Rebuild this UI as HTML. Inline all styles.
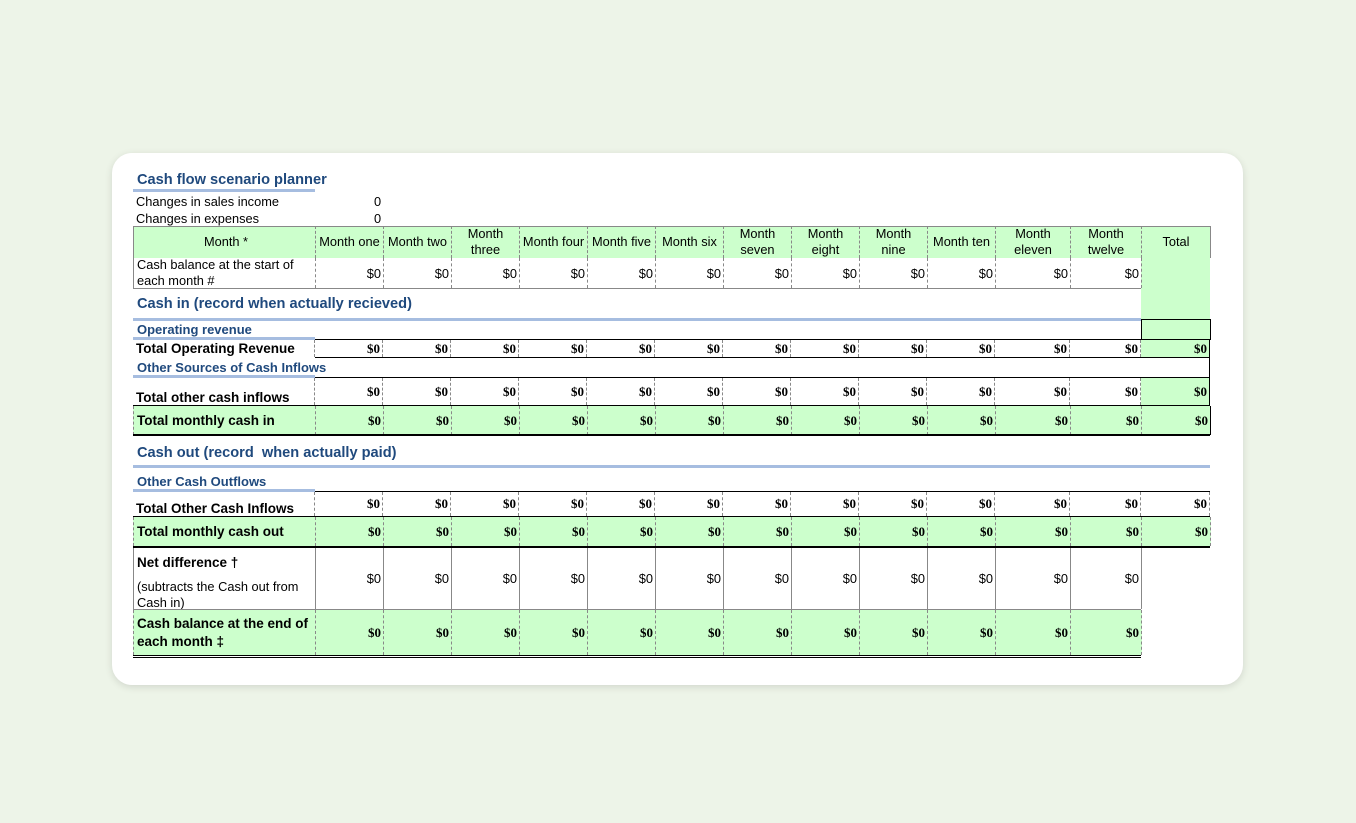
<!DOCTYPE html>
<html><head><meta charset="utf-8"><style>
body{margin:0;width:1356px;height:823px;background:#edf4e8;position:relative;overflow:hidden;font-family:"Liberation Sans",Arial,sans-serif;}
.card{position:absolute;left:112px;top:153px;width:1131px;height:532px;background:#fff;border-radius:20px;box-shadow:0 2px 8px rgba(0,0,0,0.12);}
.a{position:absolute;}
.row{position:absolute;left:133px;display:flex;}
.row>span{box-sizing:border-box;border-right:1px dashed #888;display:flex;align-items:center;justify-content:flex-end;padding-right:2px;font-size:12.8px;color:#000;height:100%;white-space:nowrap}
.row>span:nth-child(1){width:182px;justify-content:flex-start;padding-left:3px;white-space:normal}
.row>span:nth-child(n+2){width:68px}
.row>span:nth-child(12){width:75px}
.row>span:nth-child(13){width:71px}
.row>span:nth-child(14){width:69px}
.g{background:#ccffcc}
.b>span{font-family:"Liberation Serif",serif;font-weight:bold;font-size:13px}
.b>span:nth-child(1){font-family:"Liberation Sans",sans-serif;font-weight:bold;font-size:13.5px}
.h{font-weight:bold;color:#1f497d;font-size:14.6px}
.s{font-weight:bold;color:#1f497d;font-size:13px}
.bl{background:#a6bde0;height:3px}
.ln{height:1px;background:#000}
.gl{height:1px;background:#888}
.hd>span{justify-content:center;text-align:center;padding:0;line-height:16px}
.hd>span:nth-child(1){justify-content:center}
.t{font-size:12.8px}
</style></head><body>
<div class="card"></div>
<div class="a h" style="left:137px;top:172px">Cash flow scenario planner</div>
<div class="a bl" style="left:133px;top:189px;width:182px"></div>
<div class="a t" style="left:136px;top:194px">Changes in sales income</div>
<div class="a t" style="left:136px;top:211px">Changes in expenses</div>
<div class="a t" style="left:374px;top:194px">0</div>
<div class="a t" style="left:374px;top:211px">0</div>

<div class="a g" style="left:1141px;top:226px;width:69px;height:131px"></div>

<div class="row g hd" style="top:226px;height:32px;border-left:1px solid #888"><span>Month *</span><span>Month one</span><span>Month two</span><span>Month<br>three</span><span>Month four</span><span>Month five</span><span>Month six</span><span>Month<br>seven</span><span>Month<br>eight</span><span>Month<br>nine</span><span>Month ten</span><span>Month<br>eleven</span><span>Month<br>twelve</span><span style="border-right:1px solid #888">Total</span></div>
<div class="a gl" style="left:133px;top:226px;width:1077px"></div>
<div class="row" style="top:258px;height:30px;border-left:1px solid #888"><span style="line-height:16px">Cash balance at the start of each month #</span><span>$0</span><span>$0</span><span>$0</span><span>$0</span><span>$0</span><span>$0</span><span>$0</span><span>$0</span><span>$0</span><span>$0</span><span>$0</span><span>$0</span></div>
<div class="a gl" style="left:133px;top:288px;width:1008px"></div>

<div class="a h" style="left:137px;top:296px">Cash in (record when actually recieved)</div>
<div class="a bl" style="left:133px;top:318px;width:1008px"></div>
<div class="a" style="left:1141px;top:319px;width:68px;height:19px;border:1px solid #000;background:#ccffcc"></div>
<div class="a s" style="left:137px;top:322px">Operating revenue</div>
<div class="a bl" style="left:133px;top:337px;width:182px"></div>
<div class="a ln" style="left:315px;top:339px;width:895px"></div>
<div class="row b" style="top:340px;height:17px"><span style="border-right:1px dashed #888">Total Operating Revenue</span><span>$0</span><span>$0</span><span>$0</span><span>$0</span><span>$0</span><span>$0</span><span>$0</span><span>$0</span><span>$0</span><span>$0</span><span>$0</span><span>$0</span><span class="g" style="border-right:1px solid #000">$0</span></div>
<div class="a ln" style="left:315px;top:357px;width:895px"></div>
<div class="a" style="left:1209px;top:357px;width:1px;height:20px;background:#000"></div>
<div class="a s" style="left:137px;top:360px">Other Sources of Cash Inflows</div>
<div class="a bl" style="left:133px;top:375px;width:182px"></div>
<div class="a ln" style="left:315px;top:377px;width:895px"></div>
<div class="row b" style="top:378px;height:27px"><span style="padding-top:11px">Total other cash inflows</span><span>$0</span><span>$0</span><span>$0</span><span>$0</span><span>$0</span><span>$0</span><span>$0</span><span>$0</span><span>$0</span><span>$0</span><span>$0</span><span>$0</span><span class="g" style="border-right:1px solid #000">$0</span></div>
<div class="a ln" style="left:133px;top:405px;width:1077px"></div>
<div class="row b g" style="top:406px;height:29px;border-left:1px dashed #888"><span>Total monthly cash in</span><span>$0</span><span>$0</span><span>$0</span><span>$0</span><span>$0</span><span>$0</span><span>$0</span><span>$0</span><span>$0</span><span>$0</span><span>$0</span><span>$0</span><span style="border-right:1px solid #000">$0</span></div>
<div class="a" style="left:133px;top:434px;width:1077px;height:2px;background:#000"></div>

<div class="a h" style="left:137px;top:445px">Cash out (record&nbsp; when actually paid)</div>
<div class="a bl" style="left:133px;top:465px;width:1077px"></div>
<div class="a s" style="left:137px;top:474px">Other Cash Outflows</div>
<div class="a bl" style="left:133px;top:489px;width:182px"></div>
<div class="a ln" style="left:315px;top:491px;width:895px"></div>
<div class="row b" style="top:492px;height:24px"><span style="padding-top:8px">Total Other Cash Inflows</span><span>$0</span><span>$0</span><span>$0</span><span>$0</span><span>$0</span><span>$0</span><span>$0</span><span>$0</span><span>$0</span><span>$0</span><span>$0</span><span>$0</span><span>$0</span></div>
<div class="a ln" style="left:133px;top:516px;width:1077px"></div>
<div class="row b g" style="top:517px;height:29px;border-left:1px dashed #888"><span>Total monthly cash out</span><span>$0</span><span>$0</span><span>$0</span><span>$0</span><span>$0</span><span>$0</span><span>$0</span><span>$0</span><span>$0</span><span>$0</span><span>$0</span><span>$0</span><span>$0</span></div>
<div class="a" style="left:133px;top:546px;width:1077px;height:2px;background:#000"></div>

<div class="row" style="top:548px;height:61px;border-left:1px solid #888"><span style="flex-direction:column;align-items:flex-start;justify-content:flex-start;border-right:1px solid #888;line-height:16px"><b style="font-size:13.5px;margin-top:7px">Net difference †</b><span style="margin-top:8px">(subtracts the Cash out from Cash in)</span></span><span style="border-right:1px solid #888">$0</span><span style="border-right:1px solid #888">$0</span><span style="border-right:1px solid #888">$0</span><span style="border-right:1px solid #888">$0</span><span style="border-right:1px solid #888">$0</span><span style="border-right:1px solid #888">$0</span><span style="border-right:1px solid #888">$0</span><span style="border-right:1px solid #888">$0</span><span style="border-right:1px solid #888">$0</span><span style="border-right:1px solid #888">$0</span><span style="border-right:1px solid #888">$0</span><span style="border-right:1px solid #888">$0</span></div>
<div class="a gl" style="left:133px;top:609px;width:1008px"></div>
<div class="row b g" style="top:610px;height:45px;border-left:1px dashed #888"><span style="line-height:18px">Cash balance at the end of each month ‡</span><span>$0</span><span>$0</span><span>$0</span><span>$0</span><span>$0</span><span>$0</span><span>$0</span><span>$0</span><span>$0</span><span>$0</span><span>$0</span><span>$0</span></div>
<div class="a" style="left:133px;top:655px;width:1008px;height:1px;background:#000"></div>
<div class="a" style="left:133px;top:657px;width:1008px;height:1px;background:#000"></div>
</body></html>
